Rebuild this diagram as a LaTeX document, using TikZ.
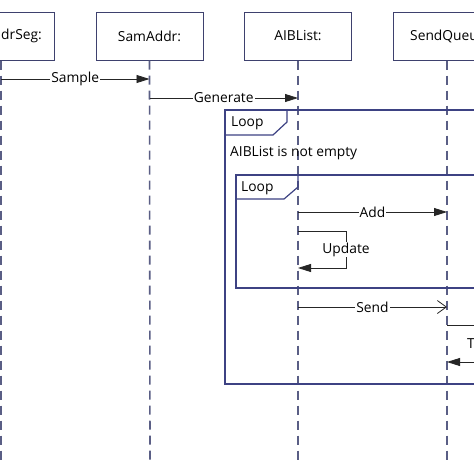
\documentclass[tikz,border=0pt]{standalone}
\usepackage{fontspec}
\setmainfont{Open Sans}
\usetikzlibrary{arrows.meta}
\definecolor{boxc}{HTML}{3E416E}
\definecolor{lifec}{HTML}{5A5E85}
\definecolor{framec}{HTML}{3D4283}
\tikzset{
  headbox/.style={draw=boxc,line width=1pt,minimum width=107pt,minimum height=48pt,inner sep=0pt,font=\fontsize{13.8}{16}\selectfont},
  lifeline/.style={draw=lifec,line width=1.6pt,dash pattern=on 9pt off 6pt},
  msg/.style={draw=black!85,line width=0.8pt,-{Triangle[length=13pt,width=8pt]}},
  openmsg/.style={draw=black!85,line width=0.8pt,-{Straight Barb[length=9pt,width=13pt,line width=0.8pt]}},
  plain/.style={draw=black!85,line width=0.8pt},
  lbl/.style={fill=white,inner sep=1pt,font=\fontsize{13.8}{16}\selectfont},
  txt/.style={inner sep=0pt,font=\fontsize{13.8}{16}\selectfont},
  frame/.style={draw=framec,line width=1.2pt},
}
\begin{document}
\begin{tikzpicture}[x=1pt,y=-1pt]
\useasboundingbox (0,0) rectangle (474,474);
\clip (0,0) rectangle (474,474);
\fill[white] (0,0) rectangle (474,474);
% head boxes
\node[headbox] (b1) at (1,36) {};
\node[txt,anchor=east] (t1) at (42,36) {drSeg:};
\node[headbox] (b2) at (149.5,36) {SamAddr:};
\node[headbox] (b3) at (298,36) {AIBList:};
\node[headbox] (b4) at (447,36) {};
\node[txt,anchor=west] (t4) at (410,36) {SendQueue};
% lifeline ends
\coordinate (e1) at (1,463);
\coordinate (e2) at (150,463);
\coordinate (e3) at (298,463);
\coordinate (e4) at (447,463);
\draw[lifeline] (b1.south) -- (e1);
\draw[lifeline] (b2.south) -- (e2);
\draw[lifeline] (b3.south) -- (e3);
\draw[lifeline] (b4.south) -- (e4);
% messages
\draw[msg] (b1 |- 0,79) -- node[lbl] {Sample} (b2 |- 0,79);
\draw[msg] (b2 |- 0,98) -- node[lbl] {Generate} (b3 |- 0,98);
% outer loop frame
\coordinate (of1) at (225,110);
\coordinate (of2) at (480,384);
\draw[frame] (of1) rectangle (of2);
\draw[frame] (225,135) -- (273,135) -- (287,122) -- (287,110);
\node[txt,anchor=west] (loop1) at (231,123) {Loop};
\node[txt,anchor=west] (cond) at (230,153) {AIBList is not empty};
% inner loop frame
\coordinate (if1) at (236,175);
\coordinate (if2) at (480,288);
\draw[frame] (if1) rectangle (if2);
\draw[frame] (236,199) -- (284,199) -- (298,187) -- (298,175);
\node[txt,anchor=west] (loop2) at (241,188) {Loop};
% Add
\draw[msg] (b3 |- 0,212) -- node[lbl] {Add} (b4 |- 0,212);
% Update self message
\coordinate (u1) at (346,231);
\coordinate (u2) at (346,268);
\draw[msg] (b3 |- 0,231) -- (u1) -- node[lbl] {Update} (u2) -- (b3 |- 0,268);
% Send
\draw[openmsg] (b3 |- 0,307) -- node[lbl] {Send} (b4 |- 0,307);
% self message on SendQueue
\coordinate (s1) at (480,325);
\coordinate (s2) at (480,362);
\draw[plain] (b4 |- 0,325) -- (s1);
\draw[msg] (s2) -- (b4 |- 0,362);
\node[lbl,anchor=west] (tlab) at (466,344) {T};
\end{tikzpicture}
\end{document}
